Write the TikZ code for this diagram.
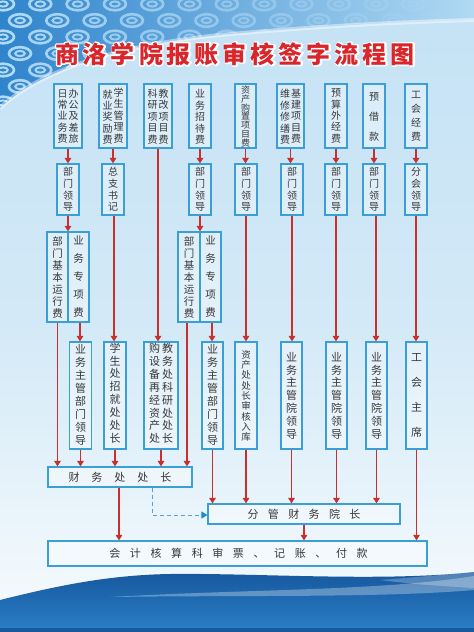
\documentclass[tikz,border=0pt]{standalone}
\usepackage{fontspec}
\newfontfamily\cjk{Noto Sans CJK SC}
\usetikzlibrary{arrows.meta}
\definecolor{rl}{HTML}{C9302C}
\definecolor{bb}{HTML}{3A9FD6}
\definecolor{tx}{HTML}{383838}
\definecolor{tt}{HTML}{D8262B}
\definecolor{bgA}{HTML}{C4E2F5}
\definecolor{bgB}{HTML}{D3E9F7}
\definecolor{bgC}{HTML}{F7FBFD}
\definecolor{dkA}{HTML}{2F84CC}
\definecolor{dkB}{HTML}{B0D9F3}
\definecolor{ringc}{HTML}{B9E0F8}
\definecolor{wvA}{HTML}{17589F}
\definecolor{wvB}{HTML}{2A80C6}
\definecolor{dsh}{HTML}{5AA0D8}
\definecolor{dshh}{HTML}{1E88D8}
\newcommand\vf[2]{\cjk\fontsize{#1}{#2}\selectfont}
\newcommand\ttl{商\kern4pt洛\kern4pt学\kern4pt院\kern4pt报\kern4pt账\kern4pt审\kern4pt核\kern4pt签\kern4pt字\kern4pt流\kern4pt程\kern4pt图}
\def\toppath{(0,0) -- (474,0) -- (474,20) .. controls (400,22) and (320,26) .. (220,35) .. controls (120,45) and (40,70) .. (0,108) -- cycle}
\tikzset{
 box/.style={draw=bb, line width=1.2pt, fill=white, fill opacity=0.35, inner sep=0pt},
 vt/.style={text=tx, align=center, inner sep=0pt},
 ht/.style={text=tx, inner sep=0pt, font=\vf{11}{13}},
 ar/.style={draw=rl, line width=1.9pt, -{Triangle[length=5.5pt,width=6.5pt]}},
 dsa/.style={draw=dsh, line width=1pt, dash pattern=on 4pt off 3pt, -{Triangle[length=6pt,width=7pt,color=dshh,fill=dshh]}},
 titlef/.style={inner sep=0pt, font=\cjk\bfseries\fontsize{24}{26}\selectfont},
}
\begin{document}
\begin{tikzpicture}[x=1pt,y=-1pt]
\useasboundingbox (0,0) rectangle (474,632);
% background
\shade[top color=bgA, bottom color=bgB] (0,0) rectangle (474,320.5);
\shade[top color=bgB, bottom color=bgC] (0,320) rectangle (474,632);
% top decoration
\shade[left color=dkA, right color=dkB] \toppath;
\begin{scope}
\clip \toppath;
\foreach \r in {0,...,6}{
 \foreach \k in {0,...,13}{
  \pgfmathsetmacro\cx{3+37.3*\k+mod(\r,2)*17}
  \pgfmathsetmacro\cy{4+16.5*\r}
  \pgfmathsetmacro\op{max(0,0.95-\cx/520)}
  \draw[ringc, line width=2.6pt, opacity=\op] (\cx,\cy) ellipse [x radius=11, y radius=6.3];
  \draw[ringc, line width=2pt, opacity=\op] (\cx,\cy) ellipse [x radius=4.8, y radius=2.6];
 }
}
\end{scope}
\draw[white, opacity=0.45, line width=4pt] (474,20) .. controls (400,22) and (320,26) .. (220,35) .. controls (120,45) and (40,70) .. (0,108);
% bottom wave
\shade[top color=wvA, bottom color=wvB] (0,600) .. controls (60,585) and (110,575) .. (170,574) .. controls (260,573) and (380,582) .. (474,572) -- (474,632) -- (0,632) -- cycle;
\fill[white, opacity=0.3] (110,597) .. controls (250,589) and (380,591) .. (474,576) -- (474,590) .. controls (380,598) and (250,595) .. (110,597) -- cycle;
\fill[white, opacity=0.25] (380,580) .. controls (420,577) and (450,574) .. (474,572) -- (474,588) .. controls (440,586) and (410,584) .. (380,580) -- cycle;
\fill[wvA] (0,628) rectangle (474,632);
% title: white outline (stroked glyphs) under the red title
\node[titlef, text=white] (tw) at (235,54) {\special{pdf:code 1 Tr 2.8 w 1 j 1 1 1 RG}\ttl\special{pdf:code 0 Tr}};
\node[titlef, text=tt] (title) at (235,54) {\ttl};

% row 1
\node[box, minimum width=28pt, minimum height=64pt] (A1) at (68,116) {};
\node[box, minimum width=28pt, minimum height=64pt] (A2) at (113,116) {};
\node[box, minimum width=28pt, minimum height=64pt] (A3) at (158,116) {};
\node[box, minimum width=22pt, minimum height=64pt] (A4) at (200,116) {};
\node[box, minimum width=21pt, minimum height=64pt] (A5) at (245.5,116) {};
\node[box, minimum width=27pt, minimum height=64pt] (A6) at (290.5,116) {};
\node[box, minimum width=22pt, minimum height=64pt] (A7) at (336,116) {};
\node[box, minimum width=22pt, minimum height=64pt] (A8) at (374,116) {};
\node[box, minimum width=22pt, minimum height=64pt] (A9) at (416,116) {};
\node[vt, font=\vf{10}{11.4}] (tA1l) at (62.5,116.5) {日\\常\\业\\务\\费};
\node[vt, font=\vf{10}{11.4}] (tA1r) at (73.5,116) {办\\公\\及\\差\\旅};
\node[vt, font=\vf{10}{11.4}] (tA2l) at (107.5,117) {就\\业\\奖\\励\\费};
\node[vt, font=\vf{10}{11.4}] (tA2r) at (118.5,115.5) {学\\生\\管\\理\\费};
\node[vt, font=\vf{10}{11.4}] (tA3l) at (152.5,116.5) {科\\研\\项\\目\\费};
\node[vt, font=\vf{10}{11.4}] (tA3r) at (163.5,116.5) {教\\改\\项\\目\\费};
\node[vt, font=\vf{10}{11.4}] (tA4) at (200,117) {业\\务\\招\\待\\费};
\node[vt, font=\vf{9}{8.8}] (tA5) at (245.5,116.5) {资\\产\\购\\置\\项\\目\\费};
\node[vt, font=\vf{10}{11.4}] (tA6l) at (285,117) {维\\修\\修\\缮\\费};
\node[vt, font=\vf{10}{11.4}] (tA6r) at (296,116) {基\\建\\项\\目\\费};
\node[vt, font=\vf{10}{11.4}] (tA7) at (336,116) {预\\算\\外\\经\\费};
\node[vt, font=\vf{10}{20}] (tA8) at (374,117) {预\\借\\款};
\node[vt, font=\vf{10}{14}] (tA9) at (416,116) {工\\会\\经\\费};

% row 2
\node[box, minimum width=22pt, minimum height=51pt] (B1) at (68,189.5) {};
\node[box, minimum width=22pt, minimum height=51pt] (B2) at (113,189.5) {};
\node[box, minimum width=22pt, minimum height=51pt] (B4) at (200,189.5) {};
\node[box, minimum width=22pt, minimum height=51pt] (B5) at (246,189.5) {};
\node[box, minimum width=22pt, minimum height=51pt] (B6) at (292,189.5) {};
\node[box, minimum width=22pt, minimum height=51pt] (B7) at (336,189.5) {};
\node[box, minimum width=22pt, minimum height=51pt] (B8) at (374,189.5) {};
\node[box, minimum width=22pt, minimum height=51pt] (B9) at (416,189.5) {};
\node[vt, font=\vf{10}{11.7}] (tB1) at (B1) {部\\门\\领\\导};
\node[vt, font=\vf{10}{11.7}] (tB2) at (B2) {总\\支\\书\\记};
\node[vt, font=\vf{10}{11.7}] (tB4) at (B4) {部\\门\\领\\导};
\node[vt, font=\vf{10}{11.7}] (tB5) at (B5) {部\\门\\领\\导};
\node[vt, font=\vf{10}{11.7}] (tB6) at (B6) {部\\门\\领\\导};
\node[vt, font=\vf{10}{11.7}] (tB7) at (B7) {部\\门\\领\\导};
\node[vt, font=\vf{10}{11.7}] (tB8) at (B8) {部\\门\\领\\导};
\node[vt, font=\vf{10}{11.7}] (tB9) at (B9) {分\\会\\领\\导};

% row 3
\node[box, minimum width=21pt, minimum height=90pt] (C1a) at (57.5,277) {};
\node[box, minimum width=21pt, minimum height=90pt] (C1b) at (78.5,277) {};
\node[box, minimum width=22pt, minimum height=90pt] (C4a) at (189,277) {};
\node[box, minimum width=21pt, minimum height=90pt] (C4b) at (210.5,277) {};
\node[vt, font=\vf{10.5}{12}] (tC1a) at (C1a) {部\\门\\基\\本\\运\\行\\费};
\node[vt, font=\vf{10.5}{18}] (tC1b) at (C1b) {业\\务\\专\\项\\费};
\node[vt, font=\vf{10.5}{12}] (tC4a) at (C4a) {部\\门\\基\\本\\运\\行\\费};
\node[vt, font=\vf{10.5}{18}] (tC4b) at (C4b) {业\\务\\专\\项\\费};

% row 4
\node[box, minimum width=22pt, minimum height=107pt] (D1) at (80.5,395.5) {};
\node[box, minimum width=22pt, minimum height=107pt] (D2) at (115,395.5) {};
\node[box, minimum width=34pt, minimum height=107pt] (D3) at (161,395.5) {};
\node[box, minimum width=21pt, minimum height=107pt] (D4) at (212.5,395.5) {};
\node[box, minimum width=22pt, minimum height=107pt] (D5) at (246,395.5) {};
\node[box, minimum width=21pt, minimum height=107pt] (D6) at (291.5,395.5) {};
\node[box, minimum width=21pt, minimum height=107pt] (D7) at (336.5,395.5) {};
\node[box, minimum width=21pt, minimum height=107pt] (D8) at (376.5,395.5) {};
\node[box, minimum width=21pt, minimum height=107pt] (D9) at (416.5,395.5) {};
\node[vt, font=\vf{11}{12.9}] (tD1) at (80.5,395) {业\\务\\主\\管\\部\\门\\领\\导};
\node[vt, font=\vf{11}{12.9}] (tD2) at (115,393) {学\\生\\处\\招\\就\\处\\处\\长};
\node[vt, font=\vf{11}{12.9}] (tD3l) at (154.5,393.5) {购\\设\\备\\再\\经\\资\\产\\处};
\node[vt, font=\vf{11}{12.9}] (tD3r) at (167.5,393.5) {教\\务\\处\\科\\研\\处\\处\\长};
\node[vt, font=\vf{11}{12.9}] (tD4) at (212.5,395) {业\\务\\主\\管\\部\\门\\领\\导};
\node[vt, font=\vf{9.5}{10.3}] (tD5) at (246,396) {资\\产\\处\\处\\长\\审\\核\\入\\库};
\node[vt, font=\vf{11}{12.8}] (tD6) at (291.5,395.5) {业\\务\\主\\管\\院\\领\\导};
\node[vt, font=\vf{11}{12.8}] (tD7) at (336.5,395.5) {业\\务\\主\\管\\院\\领\\导};
\node[vt, font=\vf{11}{12.8}] (tD8) at (376.5,395.5) {业\\务\\主\\管\\院\\领\\导};
\node[vt, font=\vf{11}{25}] (tD9) at (416.5,395.5) {工\\会\\主\\席};

% bottom boxes
\node[box, minimum width=144pt, minimum height=20pt] (E) at (120,477) {};
\node[box, minimum width=192pt, minimum height=20pt] (F) at (304,514) {};
\node[box, minimum width=379pt, minimum height=25pt] (G) at (237.5,553.5) {};
\node[ht] (tE) at (E) {财\kern12pt 务\kern12pt 处\kern12pt 处\kern12pt 长};
\node[ht] (tF) at (F) {分\kern9.4pt 管\kern9.4pt 财\kern9.4pt 务\kern9.4pt 院\kern9.4pt 长};
\node[ht] (tG) at (238.5,553.5) {会\kern9.6pt 计\kern9.6pt 核\kern9.6pt 算\kern9.6pt 科\kern9.6pt 审\kern9.6pt 票\kern9.6pt 、\kern9.6pt 记\kern9.6pt 账\kern9.6pt 、\kern9.6pt 付\kern9.6pt 款};

% arrows row1 -> row2
\draw[ar] (A1.south) -- (B1.north);
\draw[ar] (A2.south) -- (B2.north);
\draw[ar] (A4.south) -- (B4.north);
\draw[ar] (A5.south) -- (A5.south |- B5.north);
\draw[ar] (A6.south) -- (A6.south |- B6.north);
\draw[ar] (A7.south) -- (B7.north);
\draw[ar] (A8.south) -- (B8.north);
\draw[ar] (A9.south) -- (B9.north);
\draw[ar] (A3.south) -- (A3.south |- D3.north);
% row2 -> row3/4
\draw[ar] (B1.south) -- (B1.south |- C1a.north);
\draw[ar] (B4.south) -- (B4.south |- C4a.north);
\draw[ar] ([xshift=1pt]B2.south) -- ([xshift=1pt]B2.south |- D2.north);
\draw[ar] (B5.south) -- (D5.north);
\draw[ar] (B6.south) -- (B6.south |- D6.north);
\draw[ar] (B7.south) -- (B7.south |- D7.north);
\draw[ar] ([xshift=2pt]B8.south) -- ([xshift=2pt]B8.south |- D8.north);
\draw[ar] (B9.south) -- (B9.south |- D9.north);
% row3 -> row4
\draw[ar] ([xshift=1.5pt]C1b.south) -- ([xshift=1.5pt]C1b.south |- D1.north);
\draw[ar] ([xshift=1.5pt]C4b.south) -- ([xshift=1.5pt]C4b.south |- D4.north);
% into E
\draw[ar] (C1a.south) -- (C1a.south |- E.north);
\draw[ar] (D1.south) -- (D1.south |- E.north);
\draw[ar] (D2.south) -- (D2.south |- E.north);
\draw[ar] (D3.south) -- (D3.south |- E.north);
\draw[ar] ([xshift=-2pt]C4a.south) -- ([xshift=-2pt]C4a.south |- E.north);
% into F
\draw[ar] (D4.south) -- (D4.south |- F.north);
\draw[ar] (D5.south) -- (D5.south |- F.north);
\draw[ar] (D6.south) -- (D6.south |- F.north);
\draw[ar] (D7.south) -- (D7.south |- F.north);
\draw[ar] (D8.south) -- (D8.south |- F.north);
% into G
\draw[ar] (D9.south) -- (D9.south |- G.north);
\draw[ar] ([xshift=-1pt]E.south) -- ([xshift=-1pt]E.south |- G.north);
\draw[ar] (F.south) -- (F.south |- G.north);
% dashed
\draw[dsa] ([xshift=32pt]E.south) -- ([xshift=32pt,yshift=-1pt]E.south |- F.west) -- ([yshift=-1pt]F.west);
\end{tikzpicture}
\end{document}
